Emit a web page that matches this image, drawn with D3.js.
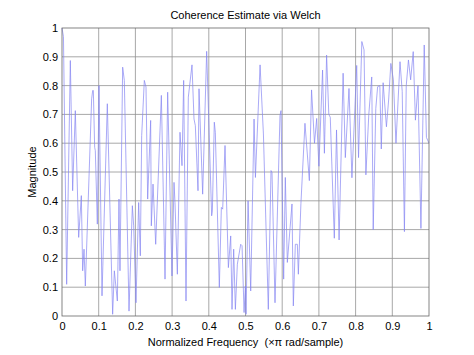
<!DOCTYPE html>
<html><head><meta charset="utf-8">
<script src="https://cdn.jsdelivr.net/npm/d3@7/dist/d3.min.js"></script>
<style>html,body{margin:0;padding:0;background:#fff;} svg{display:block;}</style>
</head><body>
<script>
const freq = [0,0.004,0.0127,0.0227,0.029,0.0363,0.0454,0.0527,0.0563,0.06,0.0636,0.0808,0.0836,0.0854,0.089,0.0908,0.0963,0.1008,0.109,0.1235,0.138,0.1426,0.1508,0.1553,0.158,0.1653,0.1698,0.1826,0.1917,0.1953,0.2016,0.2089,0.2134,0.2171,0.2243,0.2289,0.2334,0.2416,0.2434,0.248,0.2553,0.2707,0.2807,0.2879,0.2997,0.3052,0.3079,0.3143,0.3215,0.327,
0.3315,0.3379,0.3442,0.3542,0.3597,0.3633,0.3706,0.3733,0.3833,0.3942,0.4078,0.4097,0.415,0.4178,0.4287,0.4342,0.4378,0.4442,0.4533,0.4597,0.4633,0.4678,0.4724,0.4778,0.4869,0.4906,0.4961,0.4997,0.5015,0.507,0.5142,0.5233,0.527,0.5397,0.5488,0.5622,0.5695,0.5722,0.5804,0.594,0.5967,0.604,0.6085,0.614,0.6267,0.6303,0.6358,0.6413,0.644,
0.651,0.662,0.674,0.68,0.688,0.694,0.70,0.71,0.715,0.721,0.727,0.731,0.742,0.748,0.755,0.766,0.772,0.782,0.79,0.803,0.808,0.817,0.823,0.828,0.836,0.844,0.848,0.855,0.86,0.866,0.87,0.875,0.884,0.89,0.896,0.903,0.91,0.921,0.927,0.933,0.938,0.944,0.95,0.957,0.963,0.97,0.978,0.987,0.993,1.0];
const magnitude = [1.0,0.97,0.11,0.887,0.435,0.713,0.273,0.418,0.157,0.232,0.104,0.754,0.783,0.783,0.586,0.574,0.319,0.80,0.07,0.737,0.006,0.157,0.052,0.406,0.157,0.864,0.818,0.017,0.383,0.313,0.046,0.394,0.209,0.626,0.818,0.795,0.406,0.679,0.313,0.458,0.249,0.766,0.128,0.777,0.139,0.464,0.394,0.145,0.638,0.522,
0.818,0.052,0.76,0.872,0.684,0.661,0.435,0.789,0.423,0.919,0.348,0.365,0.673,0.638,0.099,0.377,0.371,0.592,0.168,0.278,0.023,0.232,0.023,0.18,0.249,0.244,0.012,0.104,0.006,0.40,0.087,0.684,0.481,0.872,0.632,0.023,0.505,0.499,0.046,0.696,0.713,0.128,0.481,0.186,0.389,0.035,0.249,0.249,0.145,
0.39,0.669,0.47,0.785,0.60,0.686,0.52,0.854,0.565,0.906,0.70,0.69,0.27,0.646,0.264,0.843,0.55,0.79,0.48,0.87,0.55,0.953,0.924,0.49,0.70,0.83,0.30,0.72,0.796,0.80,0.58,0.81,0.657,0.75,0.877,0.82,0.60,0.883,0.78,0.293,0.80,0.889,0.82,0.918,0.68,0.80,0.304,0.941,0.62,0.60];
const xTicks = [0,0.1,0.2,0.3,0.4,0.5,0.6,0.7,0.8,0.9,1];
const yTicks = [0,0.1,0.2,0.3,0.4,0.5,0.6,0.7,0.8,0.9,1];
const titleText = "Coherence Estimate via Welch";
const xLabelText = "Normalized Frequency  (\u00d7\u03c0 rad/sample)";
const yLabelText = "Magnitude";

const W = 474, H = 355;
const m = {left: 62, right: 45, top: 28, bottom: 39};
const svg = d3.select("body").append("svg").attr("width", W).attr("height", H)
  .style("font-family", "'Liberation Sans', Arial, Helvetica, sans-serif");
const x = d3.scaleLinear().domain([0,1]).range([m.left, W - m.right]);
const y = d3.scaleLinear().domain([0,1]).range([H - m.bottom, m.top]);

// grid
const grid = svg.append("g");
grid.selectAll("line.vx").data(xTicks.slice(1,-1)).enter().append("line")
  .attr("x1", d => x(d)).attr("x2", d => x(d)).attr("y1", y(0)).attr("y2", y(1))
  .attr("stroke", "#929292").attr("stroke-width", 0.8);
grid.selectAll("line.hy").data(yTicks.slice(1,-1)).enter().append("line")
  .attr("y1", d => y(d)).attr("y2", d => y(d)).attr("x1", x(0)).attr("x2", x(1))
  .attr("stroke", "#929292").attr("stroke-width", 0.8);

// line
const line = d3.line().x((d,i) => x(freq[i])).y(d => y(d));
svg.append("path").datum(magnitude).attr("d", line)
  .attr("fill", "none").attr("stroke", "#8585f2").attr("stroke-width", 0.7)
  .attr("stroke-linejoin", "round");

// box
svg.append("rect").attr("x", x(0)).attr("y", y(1)).attr("width", x(1) - x(0)).attr("height", y(0) - y(1))
  .attr("fill", "none").attr("stroke", "#666").attr("stroke-width", 0.8);

// axes
const xAxis = d3.axisBottom(x).tickValues(xTicks).tickFormat(d3.format("~g")).tickSizeOuter(0).tickSizeInner(0).tickPadding(6);
const gx = svg.append("g").attr("transform", `translate(0,${y(0)})`).call(xAxis);
gx.select(".domain").remove();
gx.selectAll("text").attr("font-size", 11).attr("fill", "#000").attr("font-family", "'Liberation Sans', Arial, sans-serif");

const yAxis = d3.axisLeft(y).tickValues(yTicks).tickFormat(d3.format("~g")).tickSizeOuter(0).tickSizeInner(0).tickPadding(4);
const gy = svg.append("g").attr("transform", `translate(${x(0)},0)`).call(yAxis);
gy.select(".domain").remove();
gy.selectAll("text").attr("font-size", 11).attr("fill", "#000").attr("font-family", "'Liberation Sans', Arial, sans-serif");

svg.append("text").attr("x", (x(0)+x(1))/2).attr("y", 19).attr("text-anchor", "middle")
  .attr("font-size", 11).text(titleText);
svg.append("text").attr("x", (x(0)+x(1))/2).attr("y", 346).attr("text-anchor", "middle")
  .attr("font-size", 11).style("white-space", "pre").text(xLabelText);
svg.append("text").attr("transform", `translate(36,${(y(0)+y(1))/2}) rotate(-90)`).attr("text-anchor", "middle")
  .attr("font-size", 11).text(yLabelText);
</script>
</body></html>
